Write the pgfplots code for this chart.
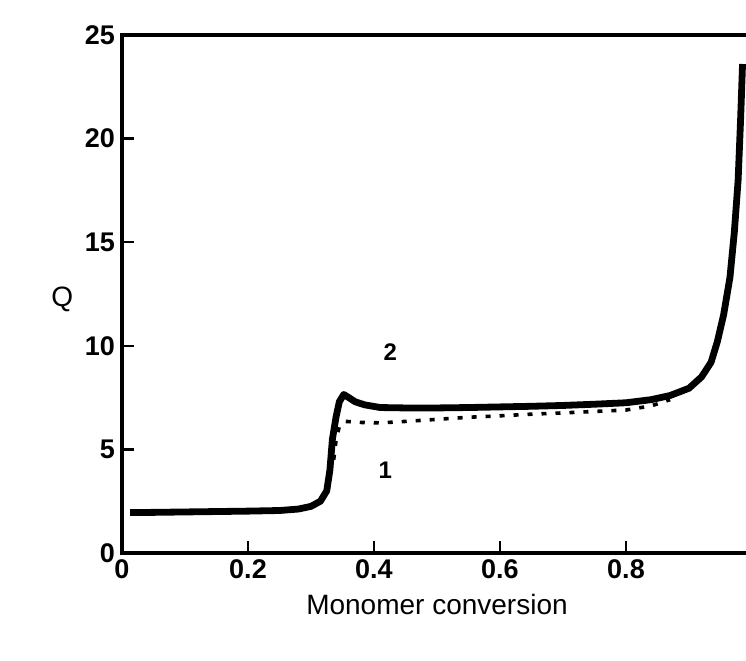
\documentclass[border=0pt]{standalone}
\usepackage{fontspec}
\setmainfont{Liberation Sans}
\usepackage{pgfplots}
\pgfplotsset{compat=1.18}
\begin{document}
\begin{tikzpicture}
\begin{axis}[
  name=ax,
  scale only axis,
  width=315pt, height=259pt,
  xmin=0, xmax=1, ymin=0, ymax=25,
  xtick={0,0.2,0.4,0.6,0.8},
  xticklabels={0,0.2,0.4,0.6,0.8},
  ytick={0,5,10,15,20,25},
  yticklabels={0,5,10,15,20,25},
  /pgf/number format/assume math mode=true,
  tick align=inside,
  xtick pos=bottom, ytick pos=left,
  major tick length=6pt,
  every tick/.style={line width=1.2pt, black},
  axis line style={line width=1.6pt},
  ticklabel style={font=\fontsize{13.5}{16}\selectfont\bfseries},
  xlabel={Monomer conversion},
  ylabel={Q},
  label style={font=\fontsize{14}{16}\selectfont},
  xlabel style={at={(axis description cs:0.5,-0.065)}, anchor=north},
  ylabel style={rotate=-90, at={(axis description cs:-0.095,0.49)}, anchor=center},
  clip=false,
]
% curve 2 (solid)
\addplot[black, line width=3.4pt, line join=round] coordinates {
(0.013,1.95) (0.05,1.96) (0.1,1.98) (0.15,2.0) (0.2,2.02) (0.25,2.05) (0.28,2.12)
(0.30,2.25) (0.315,2.5) (0.325,3.0) (0.33,4.0) (0.334,5.5) (0.34,6.6) (0.345,7.3)
(0.352,7.65) (0.36,7.5) (0.37,7.3) (0.385,7.15) (0.41,7.02) (0.45,7.0) (0.5,7.0)
(0.55,7.02) (0.6,7.05) (0.65,7.08) (0.7,7.12) (0.75,7.18) (0.8,7.25) (0.84,7.4)
(0.87,7.6) (0.9,7.95) (0.92,8.5) (0.935,9.2) (0.945,10.2) (0.955,11.5) (0.965,13.3)
(0.972,15.5) (0.978,18) (0.982,21) (0.985,23.6)
};
% curve 1 (dotted)
\addplot[black, line width=1.8pt, dash pattern=on 2.5pt off 4.5pt] coordinates {
(0.336,4.5) (0.34,5.5) (0.345,6.1) (0.355,6.35) (0.38,6.3) (0.41,6.28) (0.45,6.35)
(0.5,6.45) (0.55,6.55) (0.6,6.62) (0.65,6.7) (0.7,6.76) (0.75,6.83) (0.8,6.9)
(0.84,7.1) (0.87,7.4)
};
\node[font=\fontsize{12}{14}\selectfont\bfseries] at (axis cs:0.426,9.7) {2};
\node[font=\fontsize{12}{14}\selectfont\bfseries] at (axis cs:0.418,4.0) {1};
\end{axis}
\pgfresetboundingbox
\path ([xshift=-61pt,yshift=-54pt]ax.south west) rectangle ([xshift=-3pt,yshift=17.5pt]ax.north east);
\end{tikzpicture}
\end{document}
